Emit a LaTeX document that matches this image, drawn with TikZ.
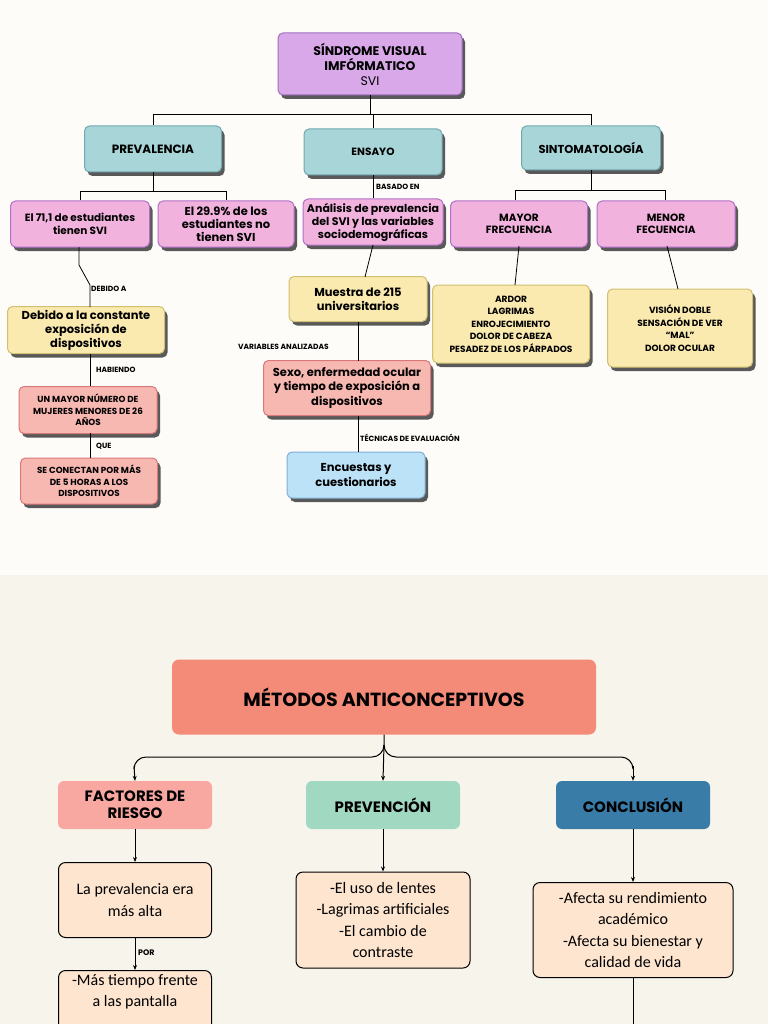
\documentclass[tikz,border=0pt]{standalone}
\usepackage{fontspec}
\setmainfont{Poppins}
\newfontfamily\bodyf{Carlito}
\usetikzlibrary{shadows,arrows.meta}
\definecolor{bgA}{HTML}{FDFCF8}
\definecolor{bgB}{HTML}{F7F4EC}
\definecolor{lav}{HTML}{D8A8E8}
\definecolor{lavd}{HTML}{A070C0}
\definecolor{teal}{HTML}{A8D5D8}
\definecolor{teald}{HTML}{70A8B0}
\definecolor{pinkb}{HTML}{F2B2DE}
\definecolor{pinkd}{HTML}{B070C8}
\definecolor{yel}{HTML}{FAEAB0}
\definecolor{yeld}{HTML}{D0C070}
\definecolor{sal}{HTML}{F8B8B2}
\definecolor{sald}{HTML}{D87878}
\definecolor{lblue}{HTML}{BCE2F8}
\definecolor{lblued}{HTML}{80B0D8}
\definecolor{coral}{HTML}{F48A78}
\definecolor{rose}{HTML}{F8A8A0}
\definecolor{mint}{HTML}{A0D8C2}
\definecolor{navy}{HTML}{3A7CA8}
\definecolor{peach}{HTML}{FDE5D0}
\tikzset{x=1pt,y=-1pt,
 bx/.style={draw=#1,line width=1pt,rounded corners=5pt,align=center,font=\bfseries\fontsize{10.5}{12.5}\selectfont,inner sep=2pt,
   drop shadow={shadow xshift=3pt,shadow yshift=-4pt,fill=black!65,opacity=1}},
 lbl/.style={font=\bfseries\fontsize{7.5}{8}\selectfont,anchor=west,inner sep=1pt},
 lk/.style={line width=0.8pt},
 hd/.style={rounded corners=6pt,align=center,font=\bfseries\fontsize{15}{17}\selectfont,minimum width=154pt,minimum height=48pt},
 bb/.style={draw=black,line width=1pt,fill=peach,rounded corners=7pt,align=center,font=\bodyf\fontsize{16}{21.5}\selectfont},
 ar/.style={line width=1pt,-{Stealth[length=5pt,width=4pt]}}
}
\begin{document}
\begin{tikzpicture}
\useasboundingbox (0,0) rectangle (768,1024);
\fill[bgA] (0,0) rectangle (768,575);
\fill[bgB] (0,575) rectangle (768,1024);
\clip (0,0) rectangle (768,1024);
% top
\node[bx=lavd,fill=lav,minimum width=184pt,minimum height=62pt,font=\bfseries\fontsize{12.5}{15}\selectfont] (t) at (370,64) {SÍNDROME VISUAL\\IMFÓRMATICO\\{\mdseries SVI}};
\node[bx=teald,fill=teal,minimum width=137pt,minimum height=46pt,font=\bfseries\fontsize{12}{14}\selectfont] (p) at (153,149) {PREVALENCIA};
\node[bx=teald,fill=teal,minimum width=138pt,minimum height=46pt] (e) at (373,152) {ENSAYO};
\node[bx=teald,fill=teal,minimum width=139pt,minimum height=44pt,font=\bfseries\fontsize{11.5}{14}\selectfont] (s) at (591,148) {SINTOMATOLOGÍA};
\draw[lk] (t.south) -- (370,114) -| (p.north);
\draw[lk] (370,114) -| (s.north);
\draw[lk] (370,114) -| (e.north);
\node[bx=pinkd,fill=pinkb,minimum width=139pt,minimum height=46pt] (a1) at (80,224) {El 71,1 de estudiantes\\tienen SVI};
\node[bx=pinkd,fill=pinkb,minimum width=136pt,minimum height=46pt,font=\bfseries\fontsize{11.5}{13}\selectfont] (a2) at (226,224) {El 29.9\% de los\\estudiantes no\\tienen SVI};
\draw[lk] (p.south) -- (153,191) coordinate (pj);
\draw[lk] (pj) -| (a1.north);
\draw[lk] (pj) -| (a2.north);
\node[bx=pinkd,fill=pinkb,minimum width=140pt,minimum height=46pt,font=\bfseries\fontsize{11}{13}\selectfont,inner sep=0pt] (an) at (373,222) {Análisis de prevalencia\\del SVI y las variables\\sociodemográficas};
\draw[lk] (e.south) -- (an.north);
\node[lbl] at (375,187) {BASADO EN};
\node[bx=pinkd,fill=pinkb,minimum width=137pt,minimum height=46pt] (mf) at (519,224) {MAYOR\\FRECUENCIA};
\node[bx=pinkd,fill=pinkb,minimum width=138pt,minimum height=46pt] (mn) at (666,224) {MENOR\\FECUENCIA};
\draw[lk] (s.south) -- (591,190) coordinate (sj);
\draw[lk] (sj) -| (515,200);
\draw[lk] (sj) -| (665,200);
\node[bx=yeld,fill=yel,minimum width=157pt,minimum height=78pt,font=\bfseries\fontsize{9}{12.5}\selectfont] (ar) at (511,324) {ARDOR\\LAGRIMAS\\ENROJECIMIENTO\\DOLOR DE CABEZA\\PESADEZ DE LOS PÁRPADOS};
\node[bx=yeld,fill=yel,minimum width=145pt,minimum height=78pt,font=\bfseries\fontsize{9}{12.5}\selectfont] (vd) at (680,328) {VISIÓN DOBLE\\SENSACIÓN DE VER\\“MAL”\\DOLOR OCULAR};
\draw[lk] (519,246) -- (515,285);
\draw[lk] (667,246) -- (678,289);
\node[bx=yeld,fill=yel,minimum width=138pt,minimum height=45pt,font=\bfseries\fontsize{11.5}{14}\selectfont] (mu) at (358,299) {Muestra de 215\\universitarios};
\draw[lk] (373,245) -- (365,277);
\node[bx=sald,fill=sal,minimum width=167pt,minimum height=55pt,font=\bfseries\fontsize{11.5}{14.5}\selectfont,inner sep=0pt] (sx) at (347,388) {Sexo, enfermedad ocular\\y tiempo de exposición a\\dispositivos};
\draw[lk] (358,322) -- (358,361);
\node[lbl] at (237,347) {VARIABLES ANALIZADAS};
\node[bx=lblued,fill=lblue,minimum width=138pt,minimum height=46pt,font=\bfseries\fontsize{11.5}{14.5}\selectfont] (en) at (356,475) {Encuestas y\\cuestionarios};
\draw[lk] (358,416) -- (358,452);
\node[lbl] at (359,438) {TÉCNICAS DE EVALUACIÓN};
\node[bx=yeld,fill=yel,minimum width=157pt,minimum height=47pt,font=\bfseries\fontsize{11.5}{14}\selectfont,inner sep=0pt] (db) at (86,330) {Debido a la constante\\exposición de\\dispositivos};
\draw[lk] (79,247) -- (79,265) -- (90,285) -- (90,307);
\node[lbl] at (90,289) {DEBIDO A};
\node[bx=sald,fill=sal,minimum width=138pt,minimum height=47pt,font=\bfseries\fontsize{8.8}{11.5}\selectfont,inner sep=0pt] (um) at (88,410) {UN MAYOR NÚMERO DE\\MUJERES MENORES DE 26\\AÑOS};
\draw[lk] (90,354) -- (90,386);
\node[lbl] at (95,370) {HABIENDO};
\node[bx=sald,fill=sal,minimum width=137pt,minimum height=46pt,font=\bfseries\fontsize{8.8}{11.5}\selectfont] (sc) at (89,481) {SE CONECTAN POR MÁS\\DE 5 HORAS A LOS\\DISPOSITIVOS};
\draw[lk] (90,433) -- (90,458);
\node[lbl] at (95,446) {QUE};
% bottom
\node[fill=coral,rounded corners=7pt,minimum width=424pt,minimum height=75pt,font=\bfseries\fontsize{19}{22}\selectfont] (m) at (384,697) {MÉTODOS ANTICONCEPTIVOS};
\node[hd,fill=rose] (f) at (135,805) {FACTORES DE\\RIESGO};
\node[hd,fill=mint] (pv) at (383,805) {PREVENCIÓN};
\node[hd,fill=navy] (c) at (633,805) {CONCLUSIÓN};
\draw[line width=1pt] (m.south) -- (384,745) to[out=270,in=0] (372,757) -- (146,757) to[out=180,in=90] (134,769);
\draw[line width=1pt] (384,745) to[out=270,in=180] (396,757) -- (621,757) to[out=0,in=90] (633,769);
\draw[ar] (134,766) -- (f.north);
\draw[ar] (633,766) -- (c.north);
\draw[ar] (384,745) -- (pv.north);
\node[bb,minimum width=153pt,minimum height=75pt] (lp) at (135,900) {La prevalencia era\\más alta};
\draw[ar] (f.south) -- (lp.north);
\node[bb,anchor=north,minimum width=153pt,minimum height=90pt,text depth=50pt] (mt) at (135,970) {-Más tiempo frente\\a las pantalla};
\draw[ar] (lp.south) -- (mt.north);
\node[lbl,font=\bfseries\fontsize{8}{9}\selectfont] at (137,953) {POR};
\node[bb,minimum width=174pt,minimum height=96pt] (eu) at (383,920) {-El uso de lentes\\-Lagrimas artificiales\\-El cambio de\\contraste};
\draw[ar] (pv.south) -- (eu.north);
\node[bb,minimum width=200pt,minimum height=95pt] (af) at (633,930) {-Afecta su rendimiento\\académico\\-Afecta su bienestar y\\calidad de vida};
\draw[ar] (c.south) -- (af.north);
\draw[line width=1pt] (af.south) -- (633,1030);
\end{tikzpicture}
\end{document}
